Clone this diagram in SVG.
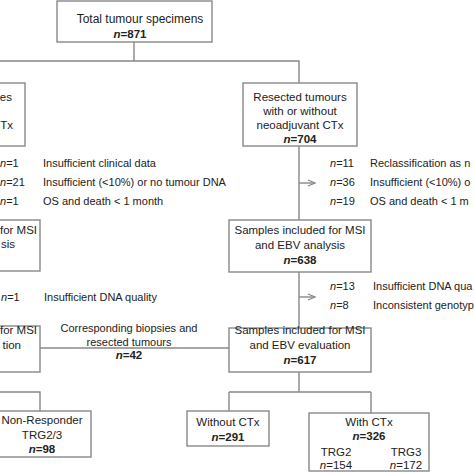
<svg xmlns="http://www.w3.org/2000/svg" width="474" height="474" viewBox="0 0 474 474">
<style>
text{font-family:"Liberation Sans",Arial,sans-serif;font-size:11.5px;fill:#222}
.s{font-size:11px}
.c{text-anchor:middle}
.e{text-anchor:end}
.b{font-weight:bold}
.box{fill:#fff;stroke:#888;stroke-width:1.4}
.ln{fill:none;stroke:#888;stroke-width:1.4}
</style>
<defs>
<marker id="ah" markerWidth="10" markerHeight="8" refX="8" refY="4" orient="auto" markerUnits="userSpaceOnUse">
<path d="M1,1 L8,4 L1,7" fill="none" stroke="#888" stroke-width="1.3"/>
</marker>
</defs>
<rect width="474" height="474" fill="#fff"/>
<g id="connectors">
<path class="ln" d="M134,42 V61 M0,61 H299 V83"/>
<path class="ln" d="M299,146 V220"/>
<path class="ln" d="M299,183 H315" marker-end="url(#ah)"/>
<path class="ln" d="M299,272 V328"/>
<path class="ln" d="M299,297 H315" marker-end="url(#ah)"/>
<path class="ln" d="M40,348 H229"/>
<path class="ln" d="M299,372 V392 M229,392 H371 M229,392 V411 M371,392 V413"/>
<path class="ln" d="M0,392 H40 V411"/>
</g>
<g id="total">
<rect class="box" x="57" y="1" width="155" height="41"/>
<text class="c" x="140" y="23" style="font-size:12px">Total tumour specimens</text>
<text class="c b" x="130" y="38"><tspan font-style="italic">n</tspan>=871</text>
</g>
<g id="biopsies">
<rect class="box" x="-80" y="83" width="105" height="63"/>
<text class="e" x="12" y="101">es</text>
<text class="e" x="13" y="129">Tx</text>
</g>
<g id="resected">
<rect class="box" x="243" y="83" width="114" height="63"/>
<text class="c" x="300" y="101">Resected tumours</text>
<text class="c" x="300" y="115">with or without</text>
<text class="c" x="300" y="129">neoadjuvant CTx</text>
<text class="c b" x="300" y="143"><tspan font-style="italic">n</tspan>=704</text>
</g>
<g id="excl-left-1" class="s">
<text class="s" x="0" y="167"><tspan font-style="italic">n</tspan>=1</text>
<text class="s" x="0" y="186"><tspan font-style="italic">n</tspan>=21</text>
<text class="s" x="0" y="205"><tspan font-style="italic">n</tspan>=1</text>
<text class="s" x="43" y="167">Insufficient clinical data</text>
<text class="s" x="43" y="186">Insufficient (&lt;10%) or no tumour DNA</text>
<text class="s" x="43" y="205">OS and death &lt; 1 month</text>
</g>
<g id="excl-right-1">
<text class="s" x="330" y="167"><tspan font-style="italic">n</tspan>=11</text>
<text class="s" x="330" y="186"><tspan font-style="italic">n</tspan>=36</text>
<text class="s" x="330" y="205"><tspan font-style="italic">n</tspan>=19</text>
<text class="s" x="370" y="167">Reclassification as n</text>
<text class="s" x="370" y="186">Insufficient (&lt;10%) o</text>
<text class="s" x="370" y="205">OS and death &lt; 1 m</text>
</g>
<g id="analysis-left">
<rect class="box" x="-100" y="220" width="140" height="51"/>
<text class="e" x="37" y="234">for MSI</text>
<text class="e" x="15" y="248">sis</text>
</g>
<g id="analysis-right">
<rect class="box" x="229" y="220" width="142" height="52"/>
<text class="c" x="300" y="234">Samples included for MSI</text>
<text class="c" x="300" y="249">and EBV analysis</text>
<text class="c b" x="300" y="264"><tspan font-style="italic">n</tspan>=638</text>
</g>
<g id="excl-left-2">
<text class="s" x="1" y="301"><tspan font-style="italic">n</tspan>=1</text>
<text class="s" x="44" y="301">Insufficient DNA quality</text>
</g>
<g id="excl-right-2">
<text class="s" x="330" y="290"><tspan font-style="italic">n</tspan>=13</text>
<text class="s" x="330" y="309"><tspan font-style="italic">n</tspan>=8</text>
<text class="s" x="373" y="290">Insufficient DNA qua</text>
<text class="s" x="373" y="309">Inconsistent genotyp</text>
</g>
<g id="eval-left">
<rect class="box" x="-100" y="326" width="140" height="46"/>
<text class="e" x="37" y="334">for MSI</text>
<text class="e" x="21" y="349">tion</text>
</g>
<g id="corresponding">
<text class="c s" x="129" y="332">Corresponding biopsies and</text>
<text class="c s" x="129" y="346">resected tumours</text>
<text class="c b" x="129" y="359"><tspan font-style="italic">n</tspan>=42</text>
</g>
<g id="eval-right">
<rect class="box" x="229" y="328" width="142" height="44"/>
<text class="c" x="300" y="334">Samples included for MSI</text>
<text class="c" x="300" y="349">and EBV evaluation</text>
<text class="c b" x="300" y="364"><tspan font-style="italic">n</tspan>=617</text>
</g>
<g id="nonresponder">
<rect class="box" x="-11" y="411" width="102" height="46"/>
<text class="c" x="42" y="424">Non-Responder</text>
<text class="c" x="42" y="439">TRG2/3</text>
<text class="c b" x="42" y="453"><tspan font-style="italic">n</tspan>=98</text>
</g>
<g id="without">
<rect class="box" x="187" y="411" width="82" height="35"/>
<text class="c" x="228" y="426">Without CTx</text>
<text class="c b" x="228" y="441"><tspan font-style="italic">n</tspan>=291</text>
</g>
<g id="with">
<rect class="box" x="309" y="413" width="120" height="58"/>
<text class="c" x="369" y="426">With CTx</text>
<text class="c b" x="369" y="440"><tspan font-style="italic">n</tspan>=326</text>
<text class="c" x="336" y="456">TRG2</text>
<text class="c" x="336" y="469"><tspan font-style="italic">n</tspan>=154</text>
<text class="c" x="406" y="456">TRG3</text>
<text class="c" x="406" y="469"><tspan font-style="italic">n</tspan>=172</text>
</g>
</svg>
